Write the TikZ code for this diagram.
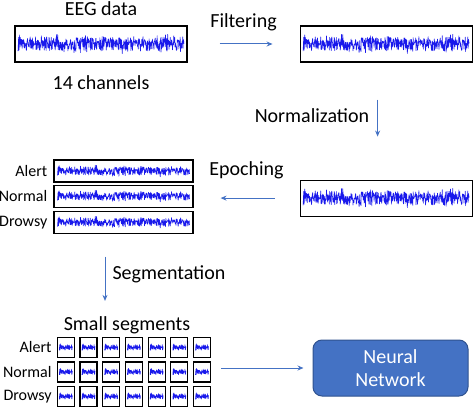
\documentclass[tikz,border=0pt]{standalone}
\usepackage{fontspec}
\setmainfont{Carlito}
\usepackage{tikz}
\usetikzlibrary{arrows.meta, positioning, calc}
\definecolor{office-blue}{HTML}{4472C4}
\definecolor{office-edge}{HTML}{2F528F}
\definecolor{eeg-blue}{RGB}{25,25,235}

% noisy trace inside a box: node, half width, amplitude, samples
\newcommand{\eegtrace}[4]{%
  \begin{scope}
    \clip ([shift={(1.5pt,1.5pt)}]#1.south west) rectangle ([shift={(-1.5pt,-1.5pt)}]#1.north east);
    \pgfmathsetseed{2718}
    \draw[eegline, shift={(#1.center)}] plot[samples=#4, domain=-#2:#2]
      (\x, {#3*(0.45*rand + 0.55*rand*rand*rand)});
  \end{scope}}

\begin{document}
\begin{tikzpicture}[x=1pt, y=-1pt,
  node distance=2pt,
  lbl/.style={font=\fontsize{20}{24}\selectfont, text=black, inner sep=1pt},
  tag/.style={font=\fontsize{16}{19}\selectfont, inner sep=1pt},
  bigbox/.style={draw, line width=1.1pt, minimum width=172pt, minimum height=36pt, inner sep=0pt},
  epochbox/.style={draw, line width=1.1pt, minimum width=139pt, minimum height=22pt, inner sep=0pt},
  segbox/.style={draw, line width=1.1pt, minimum width=17pt, minimum height=20pt, inner sep=0pt},
  nnbox/.style={rectangle, rounded corners=9pt, draw=office-edge, line width=1pt,
                fill=office-blue, text=white, minimum width=155pt, minimum height=56pt,
                align=center, font=\fontsize{20}{23}\selectfont},
  arr/.style={-{Stealth[length=6pt,width=5pt]}, line width=1pt, office-blue},
  eegline/.style={eeg-blue, line width=0.6pt, line join=round}
]
  \useasboundingbox (0,0) rectangle (474,414);

  % raw and filtered recordings
  \node[bigbox] (raw) at (101,44) {};
  \node[lbl, above=9pt of raw] (rawtitle) {EEG data};
  \node[lbl, below=12pt of raw] (chan) {14 channels};
  \node[bigbox, right=112pt of raw] (filt) {};
  \node[bigbox, below=117pt of filt] (norm) {};
  \foreach \b in {raw, filt, norm}
    \eegtrace{\b}{83}{15}{520};

  % epochs per state
  \node[epochbox] (alert) at (123.5,171) {};
  \node[epochbox, below=2pt of alert] (normal) {};
  \node[epochbox, below=3pt of normal] (drowsy) {};
  \node[tag, left=5pt of alert] (alerttag) {Alert};
  \node[tag, left=5pt of normal] (normaltag) {Normal};
  \node[tag, left=5pt of drowsy] (drowsytag) {Drowsy};
  \foreach \b in {alert, normal, drowsy}
    \eegtrace{\b}{66}{9}{420};

  % small segments
  \node[lbl, anchor=base] (segtitle) at (127,330) {Small segments};
  \foreach \r/\lab in {1/Alert, 2/Normal, 3/Drowsy} {
    \foreach \c in {1,...,7} {
      \node[segbox] (s\r\c) at ({65.8+22.7*(\c-1)}, {347.5+24.5*(\r-1)}) {};
      \eegtrace{s\r\c}{6.5}{6}{60}
    }
    \node[tag, left=4pt of s\r1] (segtag\r) {\lab};
  }

  \node[nnbox] (nn) at (390.5,368) {Neural\\Network};

  \draw[arr, shorten <=32pt, shorten >=27pt] (raw) -- node[lbl, above=12pt] (filtlbl) {Filtering} (filt);
  \draw[arr, shorten <=37pt, shorten >=43pt] ([xshift=-8.5pt]filt.south)
    -- node[lbl, left=7pt, pos=.45] (normlbl) {Normalization} ([xshift=-8.5pt]norm.north);
  \draw[arr, shorten <=25pt, shorten >=27pt] (norm.west)
    -- node[lbl, above=18pt] (epochlbl) {Epoching} (norm.west -| normal.east);
  \draw[arr, shorten <=23pt, shorten >=14pt] ([xshift=-18.5pt]drowsy.south)
    -- node[lbl, right=6pt] (seglbl) {Segmentation} ([xshift=-18.5pt]drowsy.south |- segtitle.north);
  \draw[arr, shorten <=10pt, shorten >=9pt] (nn.west -| s27.east) -- (nn.west);

\end{tikzpicture}
\end{document}
